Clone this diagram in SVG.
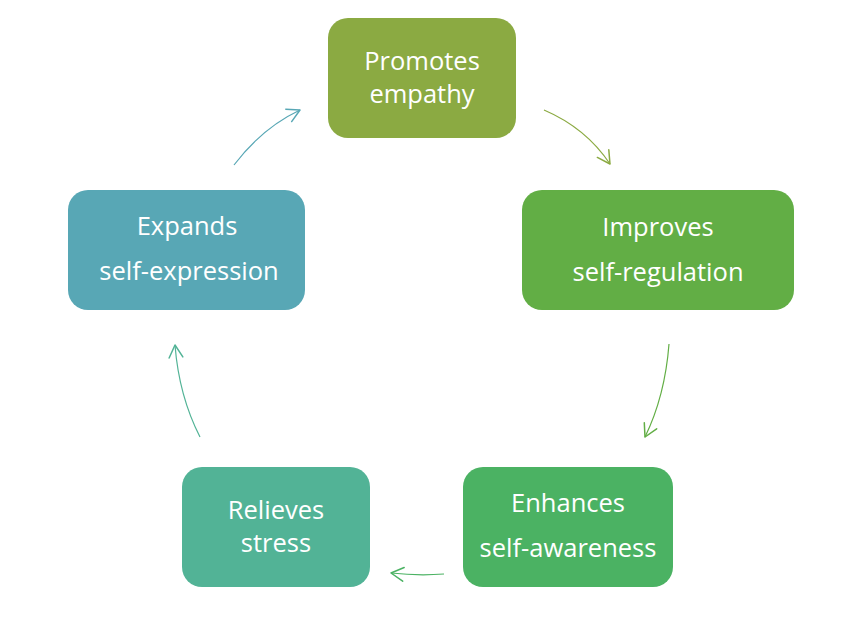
<svg xmlns="http://www.w3.org/2000/svg" width="861" height="642" viewBox="0 0 861 642">
<style>
.box text{font-family:"Open Sans","Liberation Sans",sans-serif;font-size:25.5px;fill:#ffffff;text-anchor:middle}
.conn path{fill:none;stroke-width:1.2}
.head{fill:none;stroke-width:1.2;stroke-linecap:round;stroke-linejoin:round}
</style>
<defs>
<marker id="hTeal" markerUnits="userSpaceOnUse" markerWidth="20" markerHeight="20" refX="0" refY="0" viewBox="-12 -8 16 16" orient="auto"><path class="head" d="M-10,-5.5 L0,0 L-10,5.5" stroke="#58A7B5"/></marker>
<marker id="hOlive" markerUnits="userSpaceOnUse" markerWidth="20" markerHeight="20" refX="0" refY="0" viewBox="-12 -8 16 16" orient="auto"><path class="head" d="M-10,-5.5 L0,0 L-10,5.5" stroke="#8BAA42"/></marker>
<marker id="hGreen" markerUnits="userSpaceOnUse" markerWidth="20" markerHeight="20" refX="0" refY="0" viewBox="-12 -8 16 16" orient="auto"><path class="head" d="M-10,-5.5 L0,0 L-10,5.5" stroke="#62AE45"/></marker>
<marker id="hGreen2" markerUnits="userSpaceOnUse" markerWidth="20" markerHeight="20" refX="0" refY="0" viewBox="-12 -8 16 16" orient="auto"><path class="head" d="M-10,-5.5 L0,0 L-10,5.5" stroke="#4BB263"/></marker>
<marker id="hSea" markerUnits="userSpaceOnUse" markerWidth="20" markerHeight="20" refX="0" refY="0" viewBox="-12 -8 16 16" orient="auto"><path class="head" d="M-10,-5.5 L0,0 L-10,5.5" stroke="#52B396"/></marker>
</defs>
<rect width="861" height="642" fill="#ffffff"/>
<g id="connectors" class="conn">
<path d="M234,165 Q262,128 300,110" stroke="#58A7B5" marker-end="url(#hTeal)"/>
<path d="M544,110 Q586,128 610,164" stroke="#8BAA42" marker-end="url(#hOlive)"/>
<path d="M669,344 Q665,396 645,437" stroke="#62AE45" marker-end="url(#hGreen)"/>
<path d="M444,574 Q418,576 391,573" stroke="#4BB263" marker-end="url(#hGreen2)"/>
<path d="M200,437 Q179,396 175,345" stroke="#52B396" marker-end="url(#hSea)"/>
</g>
<g id="promotes" class="box">
<rect x="328" y="18" width="188" height="120" rx="20" fill="#8BAA42"/>
<text x="422" y="70">Promotes</text>
<text x="422" y="103">empathy</text>
</g>
<g id="improves" class="box">
<rect x="522" y="190" width="272" height="120" rx="20" fill="#62AE45"/>
<text x="658" y="236">Improves</text>
<text x="658" y="281">self-regulation</text>
</g>
<g id="enhances" class="box">
<rect x="463" y="467" width="210" height="120" rx="20" fill="#4BB263"/>
<text x="568" y="512">Enhances</text>
<text x="568" y="557">self-awareness</text>
</g>
<g id="relieves" class="box">
<rect x="182" y="467" width="188" height="120" rx="20" fill="#52B396"/>
<text x="276" y="519">Relieves</text>
<text x="276" y="552">stress</text>
</g>
<g id="expands" class="box">
<rect x="68" y="190" width="237" height="120" rx="20" fill="#58A7B5"/>
<text x="187" y="235">Expands</text>
<text x="189" y="280">self-expression</text>
</g>
</svg>
